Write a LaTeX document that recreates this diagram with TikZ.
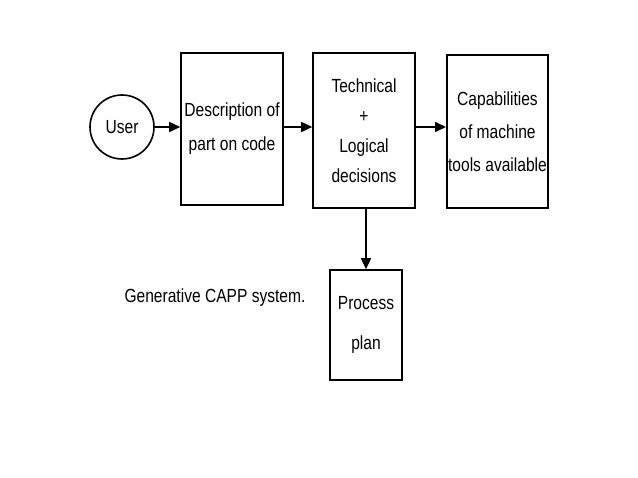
\documentclass[tikz,border=0pt]{standalone}
\usepackage{fontspec}
\setmainfont{Liberation Sans}[FakeStretch=0.82]
\usetikzlibrary{arrows.meta}
\begin{document}
\begin{tikzpicture}[x=1pt,y=-1pt,
  blk/.style={draw,line width=1.6pt,align=center,inner sep=0pt,font=\fontsize{19}{30}\selectfont},
  arr/.style={-{Triangle[length=11pt,width=10pt]},line width=1.6pt}]
\useasboundingbox (0,0) rectangle (638,478);
\node[blk,circle,minimum size=64pt] (u) at (122,127) {User};
\node[blk,minimum width=102pt,minimum height=152pt,font=\fontsize{19}{34}\selectfont] (d) at (232,129) {Description of\\part on code};
\node[blk,minimum width=102pt,minimum height=155pt] (t) at (364,130.5) {Technical\\+\\Logical\\decisions};
\node[blk,minimum width=101pt,minimum height=153pt,line width=2pt,font=\fontsize{19}{33}\selectfont] (c) at (497.5,131.5) {Capabilities\\of machine\\tools available};
\node[blk,minimum width=72pt,minimum height=110pt,font=\fontsize{19}{40}\selectfont] (p) at (366,325) {Process\\plan};
\node[font=\fontsize{19}{22}\selectfont] (g) at (215,298) {Generative CAPP system.};
\draw[arr] (u.east) -- (d.west|-u.east);
\draw[arr] (d.east|-u.east) -- (t.west|-u.east);
\draw[arr] (t.east|-u.east) -- (c.west|-u.east);
\draw[arr] (t.south-|p.north) -- (p.north);
\end{tikzpicture}
\end{document}
